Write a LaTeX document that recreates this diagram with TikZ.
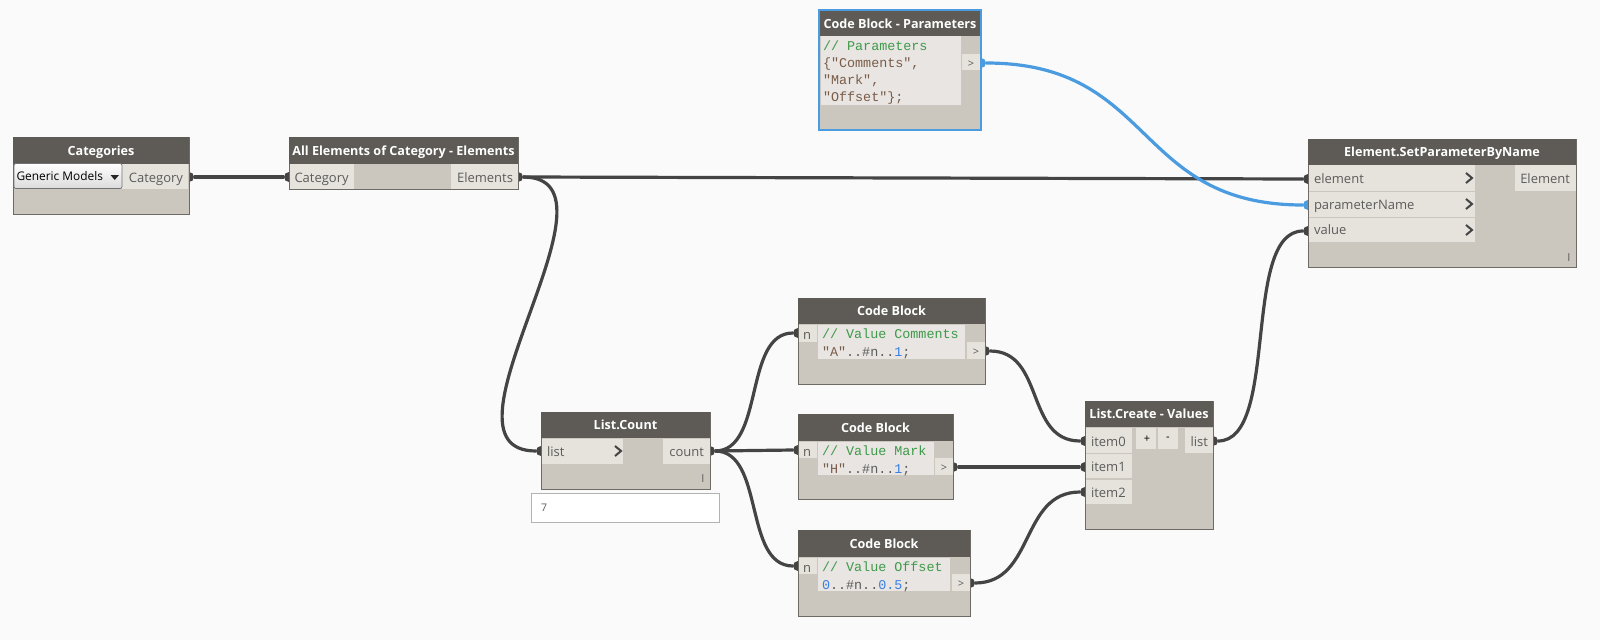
\documentclass[tikz,border=0pt]{standalone}
\usepackage{fontspec}
\setmainfont{Open Sans}
\newfontfamily\codefont{Liberation Mono}
\definecolor{bgc}{HTML}{FAFAFA}
\definecolor{headc}{HTML}{5E5B57}
\definecolor{bodyc}{HTML}{CBC6BE}
\definecolor{portc}{HTML}{E6E2DC}
\definecolor{codec}{HTML}{E8E5E2}
\definecolor{edgec}{HTML}{6E6B66}
\definecolor{wirec}{HTML}{444444}
\definecolor{bluec}{HTML}{4A9BDF}
\definecolor{lblc}{HTML}{5C5C5C}
\definecolor{cmtc}{HTML}{3F9A4A}
\definecolor{strc}{HTML}{7A5C48}
\definecolor{numc}{HTML}{3A7FE0}
\tikzset{
  x=1pt,y=-1pt,
  flat/.style={inner sep=0pt,outer sep=0pt},
  nodebody/.style={flat,fill=bodyc,draw=edgec,line width=1pt},
  selbody/.style={flat,fill=bodyc,draw=bluec,line width=2pt},
  head/.style={flat,fill=headc,text=white,text height=12pt,text depth=2.5pt,font=\fontsize{12.6}{12.6}\selectfont\bfseries},
  portbox/.style={flat,fill=portc},
  codebox/.style={flat,fill=codec},
  watch/.style={flat,fill=white,draw=black!30,line width=1pt},
  combo/.style={flat,rounded corners=2pt,draw=black!55,line width=.7pt,top color=white,bottom color=black!14},
  lbl/.style={flat,anchor=base west,text=lblc,font=\fontsize{13}{13}\selectfont},
  lblr/.style={lbl,anchor=base east},
  code/.style={flat,anchor=base west,text=lblc,font=\fontsize{13.4}{13.4}\codefont},
  gt/.style={flat,anchor=base,text=lblc,font=\fontsize{11}{11}\selectfont},
  nub/.style={flat,circle,minimum size=10pt,fill=wirec},
  bluenub/.style={nub,fill=bluec},
  wire/.style={draw=wirec,line width=3.2pt},
  bluewire/.style={draw=bluec,line width=3.2pt},
  chev/.style={draw=wirec,line width=2pt,line cap=butt,line join=miter},
}
\newcommand{\dbox}[7][]{%
  \pgfmathsetmacro{\bw}{#5-#3}\pgfmathsetmacro{\bh}{#6-#4}%
  \pgfmathsetmacro{\bx}{(#3+#5)/2}\pgfmathsetmacro{\by}{(#4+#6)/2}%
  \node[#1,minimum width=\bw pt,minimum height=\bh pt] (#2) at (\bx,\by) {#7};}
\newcommand{\chevat}[2]{\draw[chev] (#1-3,#2-5) -- (#1+3,#2) -- (#1-3,#2+5);}
\begin{document}
\begin{tikzpicture}
\useasboundingbox (0,0) rectangle (1600,640);
\fill[bgc] (0,0) rectangle (1600,640);

% port nubs (inner half is hidden by the node boxes drawn after them)
\node[nub] (catout) at (189,177) {};
\node[nub] (aecat) at (289,177) {};
\node[nub] (aeout) at (518,177) {};
\node[bluenub] (parout) at (981,63) {};
\node[nub] (selem) at (1308,179) {};
\node[bluenub] (sparam) at (1308,205) {};
\node[nub] (sval) at (1308,231) {};
\node[nub] (lcin) at (541,451) {};
\node[nub] (lcout) at (710,451) {};
\node[nub] (anin) at (798,333) {};
\node[nub] (anout) at (985,351) {};
\node[nub] (bnin) at (798,450) {};
\node[nub] (bnout) at (953,467) {};
\node[nub] (cnin) at (798,566) {};
\node[nub] (cnout) at (970,583) {};
\node[nub] (it0) at (1085,441) {};
\node[nub] (it1) at (1085,467) {};
\node[nub] (it2) at (1085,492) {};
\node[nub] (lsout) at (1213,441) {};

% Categories
\dbox[nodebody]{cat}{13}{137}{189}{214}{}
\dbox[head]{cath}{13}{137}{189}{163.5}{Categories}
\dbox[portbox]{catp}{122}{163.5}{188}{188.5}{}
\dbox[combo]{catc}{14}{163.5}{122}{188.5}{}
\node[flat,anchor=base west,text=black,font=\fontsize{11.9}{11.9}\selectfont] (catct) at (16.5,180) {Generic Models};
\fill[black!85] (110.5,175) -- (119,175) -- (114.75,180) -- cycle;
\node[lblr] (catl) at (183,182) {Category};

% All Elements
\dbox[nodebody]{ae}{289}{137}{518}{189.5}{}
\dbox[head]{aeh}{289}{137}{518}{163.5}{All Elements of Category - Elements}
\dbox[portbox]{aep1}{289.5}{163.5}{354}{188.5}{}
\dbox[portbox]{aep2}{451}{163.5}{517.5}{188.5}{}
\node[lbl] (ael1) at (294.5,182) {Category};
\node[lblr] (ael2) at (513,182) {Elements};

% Code Block - Parameters
\dbox[selbody]{par}{819}{10}{981}{129.5}{}
\dbox[head]{parh}{820}{11}{980}{35.5}{Code Block - Parameters}
\dbox[codebox]{parc}{820.5}{36}{961}{105}{}
\dbox[portbox]{parp}{962}{54}{980}{70}{}
\node[code,text=cmtc] (par1) at (823,50) {// Parameters};
\node[code,text=strc] (par2) at (823,67) {\{"Comments",};
\node[code,text=strc] (par3) at (823,84) {"Mark",};
\node[code,text=strc] (par4) at (823,101) {"Offset"\};};
\node[gt] (parg) at (971,67) {>};

% Element.SetParameterByName
\dbox[nodebody]{set}{1308}{139}{1576}{267}{}
\dbox[head]{seth}{1308}{139}{1576}{165}{Element.SetParameterByName}
\dbox[portbox]{setp1}{1309}{165}{1475}{191}{}
\dbox[portbox]{setp2}{1309}{192}{1475}{217}{}
\dbox[portbox]{setp3}{1309}{218}{1475}{242}{}
\dbox[portbox]{setp4}{1515}{165}{1575.5}{191}{}
\node[lbl] (setl1) at (1314,183.5) {element};
\node[lbl] (setl2) at (1314,209) {parameterName};
\node[lbl] (setl3) at (1314,234.5) {value};
\node[lblr] (setl4) at (1570,183.5) {Element};
\chevat{1469}{178}
\chevat{1469}{204}
\chevat{1469}{230}
\node[flat,anchor=base,text=lblc,font=\fontsize{11}{11}\selectfont] (seti) at (1569,261) {I};

% List.Count
\dbox[nodebody]{lc}{541}{412}{710}{489}{}
\dbox[head]{lch}{541}{412}{710}{438}{List.Count}
\dbox[portbox]{lcp1}{541.5}{438.5}{623}{464}{}
\dbox[portbox]{lcp2}{663}{438.5}{709.5}{464}{}
\node[lbl] (lcl1) at (547,456.5) {list};
\node[lblr] (lcl2) at (704,456.5) {count};
\chevat{618}{451}
\node[flat,anchor=base,text=lblc,font=\fontsize{11}{11}\selectfont] (lci) at (703,482) {I};
\dbox[watch]{lcw}{531}{493.5}{719}{522.5}{}
\node[flat,anchor=base west,text=lblc,font=\fontsize{10.5}{10.5}\selectfont] (lcv) at (541,511) {7};

% Code Block A
\dbox[nodebody]{ca}{798}{298}{985}{384}{}
\dbox[head]{cah}{798}{298}{985}{324}{Code Block}
\dbox[portbox]{cap1}{798.5}{324.5}{817}{342}{}
\dbox[codebox]{cac}{818}{324.5}{965}{359}{}
\dbox[portbox]{cap2}{967}{342}{984.5}{359}{}
\node[lbl] (can) at (803,339) {n};
\node[code,text=cmtc] (ca1) at (822,338) {// Value Comments};
\node[code] (ca2) at (822,356) {\textcolor{strc}{"A"}..\#n..\textcolor{numc}{1};};
\node[gt] (cag) at (976,355) {>};

% Code Block H
\dbox[nodebody]{cb}{798}{414}{953}{499}{}
\dbox[head]{cbh}{798}{414}{953}{441}{Code Block}
\dbox[portbox]{cbp1}{798.5}{441.5}{817}{458}{}
\dbox[codebox]{cbc}{818}{441.5}{933.5}{475}{}
\dbox[portbox]{cbp2}{935}{458}{952.5}{475}{}
\node[lbl] (cbn) at (803,456) {n};
\node[code,text=cmtc] (cb1) at (822,455) {// Value Mark};
\node[code] (cb2) at (822,473) {\textcolor{strc}{"H"}..\#n..\textcolor{numc}{1};};
\node[gt] (cbg) at (944,471) {>};

% Code Block Offset
\dbox[nodebody]{cc}{798}{530}{970}{616}{}
\dbox[head]{cch}{798}{530}{970}{557}{Code Block}
\dbox[portbox]{ccp1}{798.5}{557.5}{817}{574}{}
\dbox[codebox]{ccc}{818}{557.5}{950}{591}{}
\dbox[portbox]{ccp2}{952}{574}{969.5}{591}{}
\node[lbl] (ccn) at (803,572) {n};
\node[code,text=cmtc] (cc1) at (822,571) {// Value Offset};
\node[code] (cc2) at (822,589) {\textcolor{numc}{0}..\#n..\textcolor{numc}{0.5};};
\node[gt] (ccg) at (961,587) {>};

% List.Create
\dbox[nodebody]{ls}{1085}{401}{1213}{529}{}
\dbox[head]{lsh}{1085}{401}{1213}{427}{List.Create - Values}
\dbox[portbox]{lsp0}{1085.5}{427.5}{1132}{453}{}
\dbox[portbox]{lsp1}{1085.5}{454}{1132}{478}{}
\dbox[portbox]{lsp2}{1085.5}{479.5}{1132}{504}{}
\dbox[portbox]{lsp3}{1185}{427.5}{1212.5}{453}{}
\dbox[portbox]{lspl}{1136}{427.5}{1156}{449}{}
\dbox[portbox]{lspm}{1158}{427.5}{1178}{449}{}
\node[lbl] (lsl0) at (1091,446) {item0};
\node[lbl] (lsl1) at (1091,471.5) {item1};
\node[lbl] (lsl2) at (1091,497) {item2};
\node[lblr] (lsl3) at (1208,446) {list};
\node[flat,text=black,font=\fontsize{11}{11}\selectfont] (lspt) at (1147,439) {+};
\node[flat,text=black,font=\fontsize{11}{11}\selectfont] (lsmt) at (1168,439) {-};

% connectors
\draw[wire] (catout.east) -- (aecat.west);
\draw[wire] (aeout.east) -- (selem.west);
\draw[wire] (aeout.east) .. controls +(112,0) and +(-112,0) .. (lcin.west);
\draw[wire] (lcout.east) .. controls +(50,0) and +(-50,0) .. (anin.west);
\draw[wire] (lcout.east) -- (bnin.west);
\draw[wire] (lcout.east) .. controls +(50,0) and +(-50,0) .. (cnin.west);
\draw[wire] (anout.east) .. controls +(55,0) and +(-55,0) .. (it0.west);
\draw[wire] (bnout.east) -- (it1.west);
\draw[wire] (cnout.east) .. controls +(60,0) and +(-60,0) .. (it2.west);
\draw[wire] (lsout.east) .. controls +(62,0) and +(-62,0) .. (sval.west);
\draw[bluewire] (parout.east) .. controls +(170,0) and +(-170,0) .. (sparam.west);
\end{tikzpicture}
\end{document}
